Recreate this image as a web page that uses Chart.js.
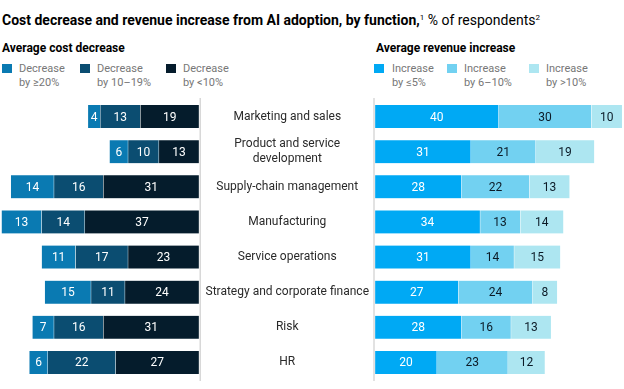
<!DOCTYPE html>
<html>
<head>
<meta charset="utf-8">
<script src="https://cdn.jsdelivr.net/npm/chart.js"></script>
<style>
  body { margin: 0; width: 624px; height: 389px; overflow: hidden; background: #fff;
         font-family: Roboto, "Liberation Sans", sans-serif; position: relative; color: #000; }
  #title { position: absolute; left: 2px; top: 12px; font-size: 14px; white-space: nowrap; }
  #title b { font-weight: 700; }
  #title sup { font-size: 8px; vertical-align: 5px; line-height: 0; }
  .sub { position: absolute; top: 41px; font-size: 12px; font-weight: 700; white-space: nowrap; }
  .sw { position: absolute; top: 64px; width: 10px; height: 9px; }
  .lt { position: absolute; top: 62px; font-size: 11px; line-height: 14px; color: #777; white-space: nowrap; }
  canvas { position: absolute; top: 0; }
</style>
</head>
<body>
<div id="title"><b>Cost decrease and revenue increase from AI adoption, by function,</b><sup>1</sup> % of respondents<sup>2</sup></div>
<div class="sub" style="left:2px">Average cost decrease</div>
<div class="sub" style="left:376px">Average revenue increase</div>
<div id="legend"></div>
<canvas id="costChart" width="202" height="389" style="left:0"></canvas>
<canvas id="revChart" width="424" height="389" style="left:200px"></canvas>
<script>
// categories
const functions = [
  ["Marketing and sales"],
  ["Product and service", "development"],
  ["Supply-chain management"],
  ["Manufacturing"],
  ["Service operations"],
  ["Strategy and corporate finance"],
  ["Risk"],
  ["HR"]
];

// average cost decrease, % of respondents
const costNames = [["Decrease", "by ≥20%"], ["Decrease", "by 10–19%"], ["Decrease", "by <10%"]];
const cost20Plus = [4, 6, 14, 13, 11, 15, 7, 6];
const cost10to19 = [13, 10, 16, 14, 17, 11, 16, 22];
const costUnder10 = [19, 13, 31, 37, 23, 24, 31, 27];

// average revenue increase, % of respondents
const revNames = [["Increase", "by ≤5%"], ["Increase", "by 6–10%"], ["Increase", "by >10%"]];
const rev5OrLess = [40, 31, 28, 34, 31, 27, 28, 20];
const rev6to10 = [30, 21, 22, 13, 14, 24, 16, 23];
const revOver10 = [10, 19, 13, 14, 15, 8, 13, 12];

const costColors = ["#0a7ab2", "#0b4d71", "#051c2c"];
const revColors = ["#00a9f4", "#72d1f1", "#ade6f1"];

// legend (html)
const legend = document.getElementById("legend");
function addLegend(names, colors, swX, txtX) {
  names.forEach((n, i) => {
    const s = document.createElement("div");
    s.className = "sw"; s.style.left = swX[i] + "px"; s.style.background = colors[i];
    const t = document.createElement("div");
    t.className = "lt"; t.style.left = txtX[i] + "px"; t.innerHTML = n.join("<br>");
    legend.appendChild(s); legend.appendChild(t);
  });
}
addLegend(costNames, costColors, [2, 80, 166], [19, 97, 183]);
addLegend(revNames, revColors, [374, 447, 529], [392, 464, 546]);

const barLabels = {
  id: "barLabels",
  afterDatasetsDraw(chart) {
    const ctx = chart.ctx;
    ctx.save();
    ctx.font = "12px Roboto";
    ctx.textAlign = "center";
    ctx.textBaseline = "middle";
    chart.data.datasets.forEach((ds, i) => {
      chart.getDatasetMeta(i).data.forEach((bar, j) => {
        const p = bar.getCenterPoint();
        ctx.fillStyle = ds.labelColor;
        ctx.fillText(ds.data[j], p.x, p.y + 1);
      });
    });
    ctx.restore();
  }
};

const axisLine = {
  id: "axisLine",
  beforeDatasetsDraw(chart, args, opts) {
    const a = chart.chartArea, ctx = chart.ctx;
    const x = opts.side === "right" ? a.right + 1.25 : a.left - 1;
    ctx.save();
    ctx.strokeStyle = "#d8d8d8";
    ctx.lineWidth = 1.5;
    ctx.beginPath();
    ctx.moveTo(x, a.top - 1);
    ctx.lineTo(x, a.bottom + 1);
    ctx.stroke();
    ctx.restore();
  }
};

function ds(data, color, labelColor) {
  return {
    data: data, backgroundColor: color, labelColor: labelColor,
    borderColor: "rgba(255,255,255,0.8)", borderWidth: { left: 0.5, right: 0.5, top: 0, bottom: 0 },
    borderSkipped: false, barThickness: 23
  };
}

new Chart(document.getElementById("costChart"), {
  type: "bar",
  data: {
    labels: functions,
    datasets: [
      ds(costUnder10, costColors[2], "#fff"),
      ds(cost10to19, costColors[1], "#fff"),
      ds(cost20Plus, costColors[0], "#fff")
    ]
  },
  options: {
    indexAxis: "y", responsive: false, animation: false,
    layout: { padding: { top: 99, bottom: 9, left: 0, right: 3 } },
    plugins: { legend: { display: false }, tooltip: { enabled: false }, axisLine: { side: "right" } },
    scales: {
      x: { stacked: true, reverse: true, min: 0, max: 64.5, display: false },
      y: { stacked: true, display: false }
    }
  },
  plugins: [axisLine, barLabels]
});

new Chart(document.getElementById("revChart"), {
  type: "bar",
  data: {
    labels: functions,
    datasets: [
      ds(rev5OrLess, revColors[0], "#fff"),
      ds(rev6to10, revColors[1], "#0b1a26"),
      ds(revOver10, revColors[2], "#0b1a26")
    ]
  },
  options: {
    indexAxis: "y", responsive: false, animation: false,
    layout: { padding: { top: 99, bottom: 9, left: 0, right: 0 } },
    plugins: { legend: { display: false }, tooltip: { enabled: false }, axisLine: { side: "left" } },
    scales: {
      x: { stacked: true, min: 0, max: 80.6, display: false },
      y: {
        stacked: true,
        grid: { display: false, drawTicks: false },
        border: { display: false },
        ticks: { crossAlign: "center", padding: 6, color: "#2a2a2a", font: { family: "Roboto", size: 12 } },
        afterFit(scale) {
          scale.width = 175;
          scale.paddingTop = 0;
          scale.paddingBottom = 0;
        }
      }
    }
  },
  plugins: [axisLine, barLabels]
});
</script>
</body>
</html>
